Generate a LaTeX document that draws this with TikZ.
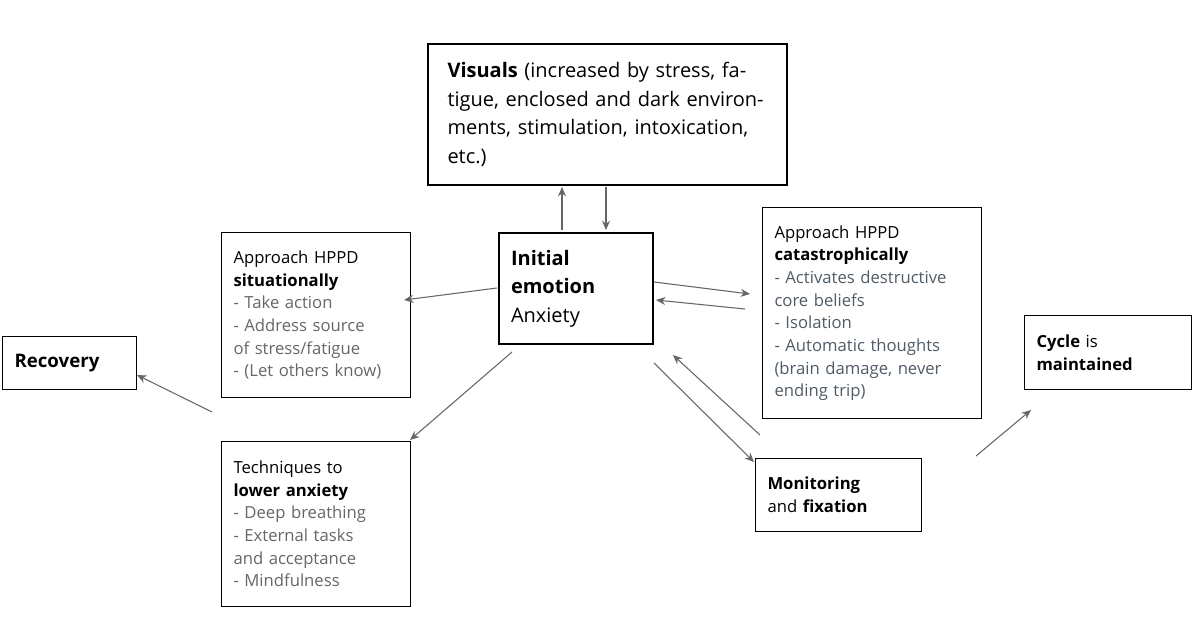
\documentclass[tikz,border=0pt]{standalone}
\usepackage{fontspec}
\setmainfont{Open Sans}
\usetikzlibrary{arrows.meta}
\definecolor{gt}{HTML}{666666}
\definecolor{bt}{HTML}{4F5B66}
\definecolor{ar}{HTML}{666666}
\begin{document}
\begin{tikzpicture}[x=0.75pt,y=-0.75pt,
 box/.style={draw,line width=0.75pt,anchor=north west,align=left,inner xsep=9pt,inner ysep=0pt,font=\fontsize{12.5}{17}\selectfont},
 tbox/.style={draw,line width=1.5pt,anchor=north west,align=left,inner xsep=9pt,inner ysep=0pt,font=\fontsize{15}{21.5}\selectfont},
 arr/.style={draw=ar,line width=0.8pt,-{Stealth[length=7pt,width=6pt]}}]
\useasboundingbox (0,0) rectangle (1199,629);
\node[tbox,minimum width=359*0.75pt,minimum height=141*0.75pt,text width=320*0.75pt] (vis) at (427,43) {\textbf{Visuals} (increased by stress, fatigue, enclosed and dark environments, stimulation, intoxication, etc.)};
\node[tbox,minimum width=152*0.75pt,minimum height=111*0.75pt,text width=130*0.75pt] (ie) at (498,232) {\textbf{Initial}\\\textbf{emotion}\\Anxiety};
\node[box,minimum width=184*0.75pt,minimum height=165*0.75pt,text width=165*0.75pt] (sit) at (221,232) {Approach HPPD\\\textbf{situationally}\\\color{gt}- Take action\\\color{gt}- Address source\\\color{gt}of stress/fatigue\\\color{gt}- (Let others know)};
\node[box,minimum width=214*0.75pt,minimum height=211*0.75pt,text width=195*0.75pt] (cat) at (762,207) {Approach HPPD\\\textbf{catastrophically}\\\color{bt}- Activates destructive\\\color{bt}core beliefs\\\color{bt}- Isolation\\\color{bt}- Automatic thoughts\\\color{bt}(brain damage, never\\\color{bt}ending trip)};
\node[box,minimum width=127*0.75pt,minimum height=53*0.75pt,text width=110*0.75pt,font=\fontsize{14}{19}\selectfont] (rec) at (2,336) {\textbf{Recovery}};
\node[box,minimum width=184*0.75pt,minimum height=165*0.75pt,text width=165*0.75pt] (tech) at (221,441) {Techniques to\\\textbf{lower anxiety}\\\color{gt}- Deep breathing\\\color{gt}- External tasks\\\color{gt}and acceptance\\\color{gt}- Mindfulness};
\node[box,minimum width=161*0.75pt,minimum height=73*0.75pt,text width=142*0.75pt] (mon) at (755,458) {\textbf{Monitoring}\\and \textbf{fixation}};
\node[box,minimum width=162*0.75pt,minimum height=74*0.75pt,text width=143*0.75pt] (cyc) at (1024,315) {\textbf{Cycle} is\\\textbf{maintained}};
\coordinate (a1) at (562,230); \coordinate (a2) at (562,187);
\coordinate (b1) at (606,187); \coordinate (b2) at (606,230);
\coordinate (c1) at (497,288); \coordinate (c2) at (404,300);
\coordinate (d1) at (654,282); \coordinate (d2) at (750,294);
\coordinate (e1) at (745,309); \coordinate (e2) at (656,300);
\coordinate (f1) at (512,352); \coordinate (f2) at (410,440);
\coordinate (g1) at (654,363); \coordinate (g2) at (754,462);
\coordinate (h1) at (760,435); \coordinate (h2) at (673,355);
\coordinate (i1) at (212,412); \coordinate (i2) at (137,375);
\coordinate (j1) at (976,456); \coordinate (j2) at (1031,410);
\foreach \p in {a,b,c,d,e,f,g,h,i,j} \draw[arr] (\p1) -- (\p2);
\end{tikzpicture}
\end{document}
